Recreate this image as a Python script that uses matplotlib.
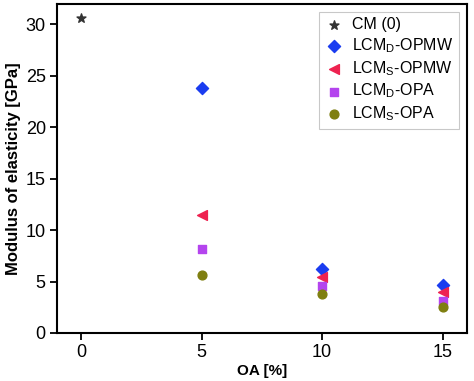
import numpy as np
import matplotlib.pyplot as plt

plt.rcParams['font.family'] = ['Liberation Sans', 'DejaVu Sans']

oa = [5, 10, 15]
cm_x = [0]
cm_y = [30.6]
lcmd_opmw = [23.8, 6.2, 4.7]
lcms_opmw = [11.5, 5.4, 4.0]
lcmd_opa = [8.2, 4.6, 3.1]
lcms_opa = [5.6, 3.8, 2.5]

fig, ax = plt.subplots(figsize=(4.74, 3.81), dpi=100)
ax.scatter(cm_x, cm_y, marker='*', s=45, color='#333333', label='CM (0)')
ax.scatter(oa, lcmd_opmw, marker='D', s=38, color='#1a3cf0', label='LCM$_\\mathregular{D}$-OPMW')
ax.scatter(oa, lcms_opmw, marker='<', s=50, color='#ee2250', label='LCM$_\\mathregular{S}$-OPMW')
ax.scatter(oa, lcmd_opa, marker='s', s=36, color='#b444ee', label='LCM$_\\mathregular{D}$-OPA')
ax.scatter(oa, lcms_opa, marker='o', s=40, color='#7f7f10', label='LCM$_\\mathregular{S}$-OPA')

ax.set_xlim(-1, 16)
ax.set_ylim(0, 32)
ax.set_xticks([0, 5, 10, 15])
ax.set_yticks([0, 5, 10, 15, 20, 25, 30])
ax.tick_params(labelsize=13, width=1.3, length=5, pad=3)
for s in ax.spines.values():
    s.set_linewidth(1.5)
ax.set_xlabel('OA [%]', fontsize=11, fontweight='bold', labelpad=2)
ax.set_ylabel('Modulus of elasticity [GPa]', fontsize=12, fontweight='bold', labelpad=3)
leg = ax.legend(loc='upper right', fontsize=11.5, handletextpad=0.5, borderpad=0.35,
                labelspacing=0.25, fancybox=False, edgecolor='#bbbbbb', handlelength=1.2)
leg.get_frame().set_linewidth(0.8)

fig.subplots_adjust(left=0.12, right=0.985, top=0.99, bottom=0.126)
fig.savefig('out.png', dpi=100)
